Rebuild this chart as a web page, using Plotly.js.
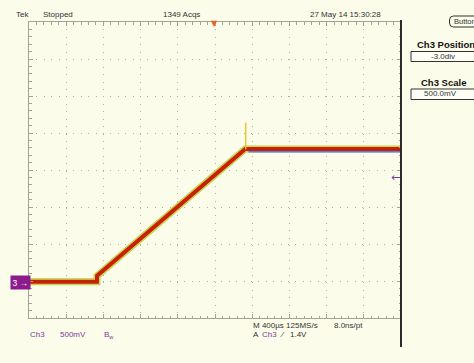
<!DOCTYPE html>
<html><head><meta charset="utf-8">
<script src="https://cdn.plot.ly/plotly-3.0.1.min.js"></script>
<style>html,body{margin:0;padding:0;background:#fcfcea;}#chart{width:474px;height:363px;}</style>
</head><body><div id="chart"></div>
<script>
// Channel 3 waveform (time in ms, trigger at 0; voltage in V)
const timeMs   = [-2.0, -1.27, -1.268, 0.325, 2.0];
const ch3Volts = [-0.01, -0.01, 0.07, 1.785, 1.785];
// rare glitch at the top corner (yellow in persistence)
const spikeTimeMs = [0.33, 0.33];
const spikeVolts  = [1.78, 2.14];
// blue (oldest) persistence level on the plateau
const blueTimeMs = [0.36, 2.0];
const blueVolts  = [1.745, 1.745];

// readout texts
const headerTexts = ["Tek", "Stopped", "1349 Acqs", "27 May 14 15:30:28"];
const chScale = "500mV", timeBase = "M 400µs 125MS/s", sampling = "8.0ns/pt", trigLevel = "1.4V";
const panelPos = ["Ch3 Position", "-3.0div"], panelScale = ["Ch3 Scale", "500.0mV"];

const L = 29, R = 401, T = 22, B = 318;
const px = x => (x - L) / (R - L);
const py = y => (B - y) / (B - T);

const bg = '#fcfcea', grid = '#a3a396', txt = '#333333', purple = '#7b3b9b';
const font = 'Liberation Sans, Arial, sans-serif';

const traces = [
  {x: timeMs, y: ch3Volts, mode: 'lines', line: {color: '#9ad655', width: 7}, hoverinfo: 'skip'},
  {x: timeMs, y: ch3Volts, mode: 'lines', line: {color: '#f0d43a', width: 5.5}, hoverinfo: 'skip'},
  {x: blueTimeMs, y: blueVolts, mode: 'lines', line: {color: '#5b7fd6', width: 1.5}, hoverinfo: 'skip'},
  {x: timeMs, y: ch3Volts, mode: 'lines', line: {color: '#c4200c', width: 4}, hoverinfo: 'skip'},
  {x: spikeTimeMs, y: spikeVolts, mode: 'lines', line: {color: '#e6c830', width: 1.5}, hoverinfo: 'skip'}
];

const axisCommon = {
  showticklabels: false, zeroline: false, showline: true, linecolor: grid, linewidth: 1,
  mirror: 'ticks', ticks: 'inside', ticklen: 4, tickcolor: grid, tickwidth: 1,
  showgrid: true, gridcolor: '#b0b0a3', gridwidth: 1
};

function ann(x, y, text, opts) {
  return Object.assign({xref: 'paper', yref: 'paper', x: px(x), y: py(y), text: text,
    showarrow: false, xanchor: 'left', yanchor: 'middle',
    font: {family: font, size: 8, color: txt}}, opts || {});
}

const annotations = [
  ann(14, 15, headerTexts[0]),
  ann(41, 15, headerTexts[1]),
  ann(161, 15, headerTexts[2]),
  ann(308, 15, headerTexts[3]),
  ann(452, 21.5, 'Buttons', {font: {family: font, size: 7.5, color: txt}}),
  ann(415, 44, panelPos[0], {font: {family: font, size: 9.5, color: '#111', weight: 'bold'}}),
  ann(443, 57, panelPos[1], {xanchor: 'center'}),
  ann(444, 82, panelScale[0], {xanchor: 'center', font: {family: font, size: 9.5, color: '#111', weight: 'bold'}}),
  ann(441, 94, panelScale[1], {xanchor: 'center'}),
  ann(28, 334.5, 'Ch3', {font: {family: font, size: 8, color: purple}}),
  ann(58, 334.5, chScale, {font: {family: font, size: 8, color: purple}}),
  ann(102, 334.5, 'B<sub>w</sub>', {font: {family: font, size: 8, color: purple}}),
  ann(251, 325.5, timeBase),
  ann(332, 325.5, sampling),
  ann(251, 334.5, 'A'),
  ann(260, 334.5, 'Ch3', {font: {family: font, size: 8, color: purple}}),
  ann(278, 334.5, '⁄'),
  ann(288, 334.5, trigLevel),
  ann(20, 282, '3 →', {xanchor: 'center', bgcolor: '#8c1c8c', borderpad: 1.5,
    font: {family: font, size: 8.5, color: '#ffffff'}}),
  ann(395, 177, '←', {xanchor: 'center', font: {family: 'DejaVu Sans', size: 11, color: purple}}),
  ann(214, 23.5, '▼', {xanchor: 'center', font: {family: 'DejaVu Sans', size: 8, color: '#e0662a'}})
];

function rr(x0, y0, x1, y1, r) {
  const X = v => px(v), Y = v => py(v);
  return `M${X(x0 + r)},${Y(y0)} L${X(x1 - r)},${Y(y0)} Q${X(x1)},${Y(y0)} ${X(x1)},${Y(y0 + r)} ` +
    `L${X(x1)},${Y(y1 - r)} Q${X(x1)},${Y(y1)} ${X(x1 - r)},${Y(y1)} L${X(x0 + r)},${Y(y1)} ` +
    `Q${X(x0)},${Y(y1)} ${X(x0)},${Y(y1 - r)} L${X(x0)},${Y(y0 + r)} Q${X(x0)},${Y(y0)} ${X(x0 + r)},${Y(y0)} Z`;
}

const shapes = [
  {type: 'line', xref: 'paper', yref: 'paper', x0: 1, x1: 1, y0: py(20), y1: py(347),
   line: {color: '#2b2b2b', width: 2}},
  {type: 'path', xref: 'paper', yref: 'paper', path: rr(449.5, 16, 490, 27, 4),
   line: {color: '#333', width: 1}},
  {type: 'rect', xref: 'paper', yref: 'paper', x0: px(411), x1: px(480), y0: py(51.5), y1: py(61.5),
   line: {color: '#333', width: 1}, fillcolor: '#fefef6', layer: 'below'},
  {type: 'rect', xref: 'paper', yref: 'paper', x0: px(411), x1: px(480), y0: py(89), y1: py(99.5),
   line: {color: '#333', width: 1}, fillcolor: '#fefef6', layer: 'below'}
];

const layout = {
  width: 474, height: 363,
  margin: {l: L, r: 474 - R, t: T, b: 363 - B, pad: 0},
  paper_bgcolor: bg, plot_bgcolor: bg, showlegend: false,
  xaxis: Object.assign({}, axisCommon, {range: [-2, 2], tick0: 0, dtick: 0.4, griddash: '1px,6.44px',
    minor: {tick0: 0, dtick: 0.08, ticks: 'inside', ticklen: 2.5, tickcolor: grid, showgrid: false}}),
  yaxis: Object.assign({}, axisCommon, {range: [-0.5, 3.5], tick0: 0, dtick: 0.5, griddash: '1px,6.4px',
    minor: {tick0: 0, dtick: 0.1, ticks: 'inside', ticklen: 2.5, tickcolor: grid, showgrid: false}}),
  annotations: annotations, shapes: shapes
};

Plotly.newPlot('chart', traces, layout, {staticPlot: true, displayModeBar: false});
</script></body></html>
